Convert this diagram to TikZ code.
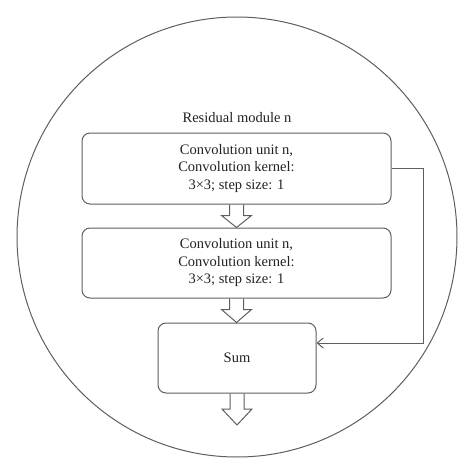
\documentclass[tikz,border=0pt]{standalone}
\usepackage{fontspec}
\setmainfont{Liberation Serif}
\usetikzlibrary{calc,arrows.meta}
\definecolor{linegray}{HTML}{5E5E5E}
\definecolor{textgray}{HTML}{222222}
\newcommand\blockarr[3]{%
  \draw[barrow] let \p1=(#1), \p2=(#2) in
    (\x1-7pt,\y1) -- (\x1-7pt,\y2+#3) -- (\x1-15pt,\y2+#3) -- (\x1,\y2)
    -- (\x1+15pt,\y2+#3) -- (\x1+7pt,\y2+#3) -- (\x1+7pt,\y1);}
\begin{document}
\begin{tikzpicture}[x=1pt,y=-1pt,
  box/.style={draw=linegray, line width=1pt, rounded corners=8pt, inner sep=0pt,
    align=center, text=textgray, font=\fontsize{14.5}{17.5}\selectfont},
  barrow/.style={draw=linegray, line width=1pt, line join=miter},
  link/.style={draw=linegray, line width=1pt},
  lbl/.style={text=textgray, font=\fontsize{14.5}{17.5}\selectfont}]
\useasboundingbox (0,0) rectangle (474,474);
\node[draw=linegray, line width=1pt, circle, minimum size=440pt, inner sep=0pt] (ring) at (237,237) {};
\node[lbl] (title) at (237,118) {Residual module n};
\node[box, minimum width=309pt, minimum height=71pt] (b1) at (236.5,168.5)
  {Convolution unit n,\\Convolution kernel:\\3×3; step size: 1};
\node[box, minimum width=309pt, minimum height=70pt] (b2) at (236.5,263)
  {Convolution unit n,\\Convolution kernel:\\3×3; step size: 1};
\node[box, minimum width=158pt, minimum height=70pt] (sum) at (237,358) {Sum};
\coordinate (out) at (237,425);
\coordinate (fb) at (423,343);
\blockarr{b1.south}{b2.north}{12pt}
\blockarr{b2.south}{sum.north}{13pt}
\blockarr{sum.south}{out}{16pt}
\draw[link, -{Straight Barb[length=6pt,width=10pt]}] (b1.east) -| (fb) -- ([yshift=15pt]sum.east);
\end{tikzpicture}
\end{document}
